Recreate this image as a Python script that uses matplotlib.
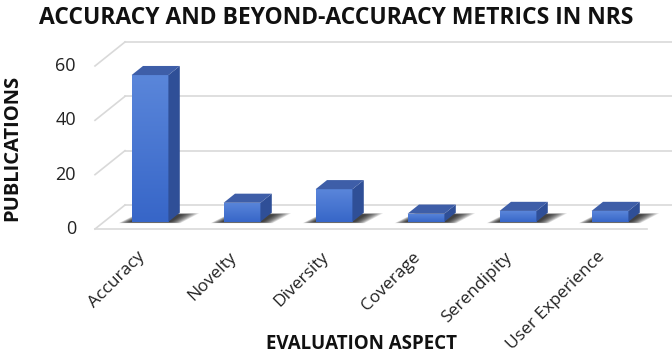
import matplotlib.pyplot as plt
import numpy as np
from matplotlib.patches import Polygon
from matplotlib.colors import LinearSegmentedColormap

# data
aspects = ['Accuracy', 'Novelty', 'Diversity', 'Coverage', 'Serendipity', 'User Experience']
publications = [54, 7, 12, 3, 4, 4]
yticks = [0, 20, 40, 60]

plt.rcParams['font.family'] = ['Open Sans', 'DejaVu Sans']

fig = plt.figure(figsize=(6.72, 3.58), dpi=100)
ax = fig.add_axes([95/672, 129/358, 577/672, 189/358])
ax.axis('off')

# oblique depth of the floor (in data units)
dx, dy = 0.326, 8.83
f0, f1 = 0.3, 0.68
w = 0.4
grid_c = '#d9d9d9'

n = len(aspects)
x = np.arange(n)

# walls / floor lines
for v in yticks:
    ax.plot([-0.5 + dx, n - 0.5 + dx], [v + dy, v + dy], color=grid_c, lw=1.2, clip_on=False, zorder=1)
    ax.plot([-0.5, -0.5 + dx], [v, v + dy], color=grid_c, lw=1.2, clip_on=False, zorder=1)
ax.plot([-0.5, n - 0.5], [0, 0], color=grid_c, lw=1.2, clip_on=False, zorder=1)

# y tick labels
for v in yticks:
    ax.text(-0.5 - 19/92, v, str(v), ha='right', va='center', fontsize=13, color='#222222')

grad = np.linspace(0, 1, 100).reshape(-1, 1)
cmap = LinearSegmentedColormap.from_list('blu', ['#3766c8', '#5a86da'])

for xi, v in zip(x, publications):
    x0 = xi + f0*dx - w/2
    x1 = x0 + w
    b = f0*dy
    ddx = (f1 - f0)*dx
    ddy = (f1 - f0)*dy
    # blurred shadow on the floor
    for k in range(10):
        sh = Polygon([(x0 - 0.14 + k*0.013, b - 0.5 + k*0.04),
                      (x1 + 0.13 - k*0.012, b - 0.5 + k*0.04),
                      (x1 + ddx + 0.21 - k*0.02, b + ddy - 0.2 - k*0.05),
                      (x0 + ddx - 0.05 + k*0.005, b + ddy - 0.2 - k*0.05)],
                     closed=True, fc='black', ec='none', alpha=0.12, zorder=2)
        ax.add_patch(sh)
    # front face
    bars = ax.bar(xi + f0*dx, v, width=w, bottom=b, color='#4a78d4', zorder=3)
    im = ax.imshow(grad, extent=(x0, x1, b, b + v), cmap=cmap, aspect='auto', zorder=3.5, origin='lower')
    im.set_clip_path(bars[0])
    # side face
    ax.add_patch(Polygon([(x1, b), (x1 + ddx, b + ddy), (x1 + ddx, b + ddy + v), (x1, b + v)],
                         closed=True, fc='#2f4f97', ec='none', zorder=4))
    # top face
    ax.add_patch(Polygon([(x0, b + v), (x1, b + v), (x1 + ddx, b + v + ddy), (x0 + ddx, b + v + ddy)],
                         closed=True, fc='#3e5ea8', ec='none', zorder=4))

ax.set_xlim(-0.5, -0.5 + 577/92)
ax.set_ylim(0, 189/2.717)

# category labels
for xi, lab in zip(x, aspects):
    ax.text(xi - 0.05, -20/2.717, lab, rotation=45, ha='right', va='top', rotation_mode='anchor',
            fontsize=12.5, color='#222222')

fig.text(0.5, 1 - 18/358, 'ACCURACY AND BEYOND-ACCURACY METRICS IN NRS', ha='center', va='center',
         fontsize=16.5, fontweight='bold', color='#111111')
fig.text(12/672, 1 - 148/358, 'PUBLICATIONS', rotation=90, ha='center', va='center',
         fontsize=14.5, fontweight='bold', color='#111111')
fig.text(362/672, 1 - 344/358, 'EVALUATION ASPECT', ha='center', va='center',
         fontsize=13.5, fontweight='bold', color='#111111')

fig.savefig('out.png', dpi=100)
